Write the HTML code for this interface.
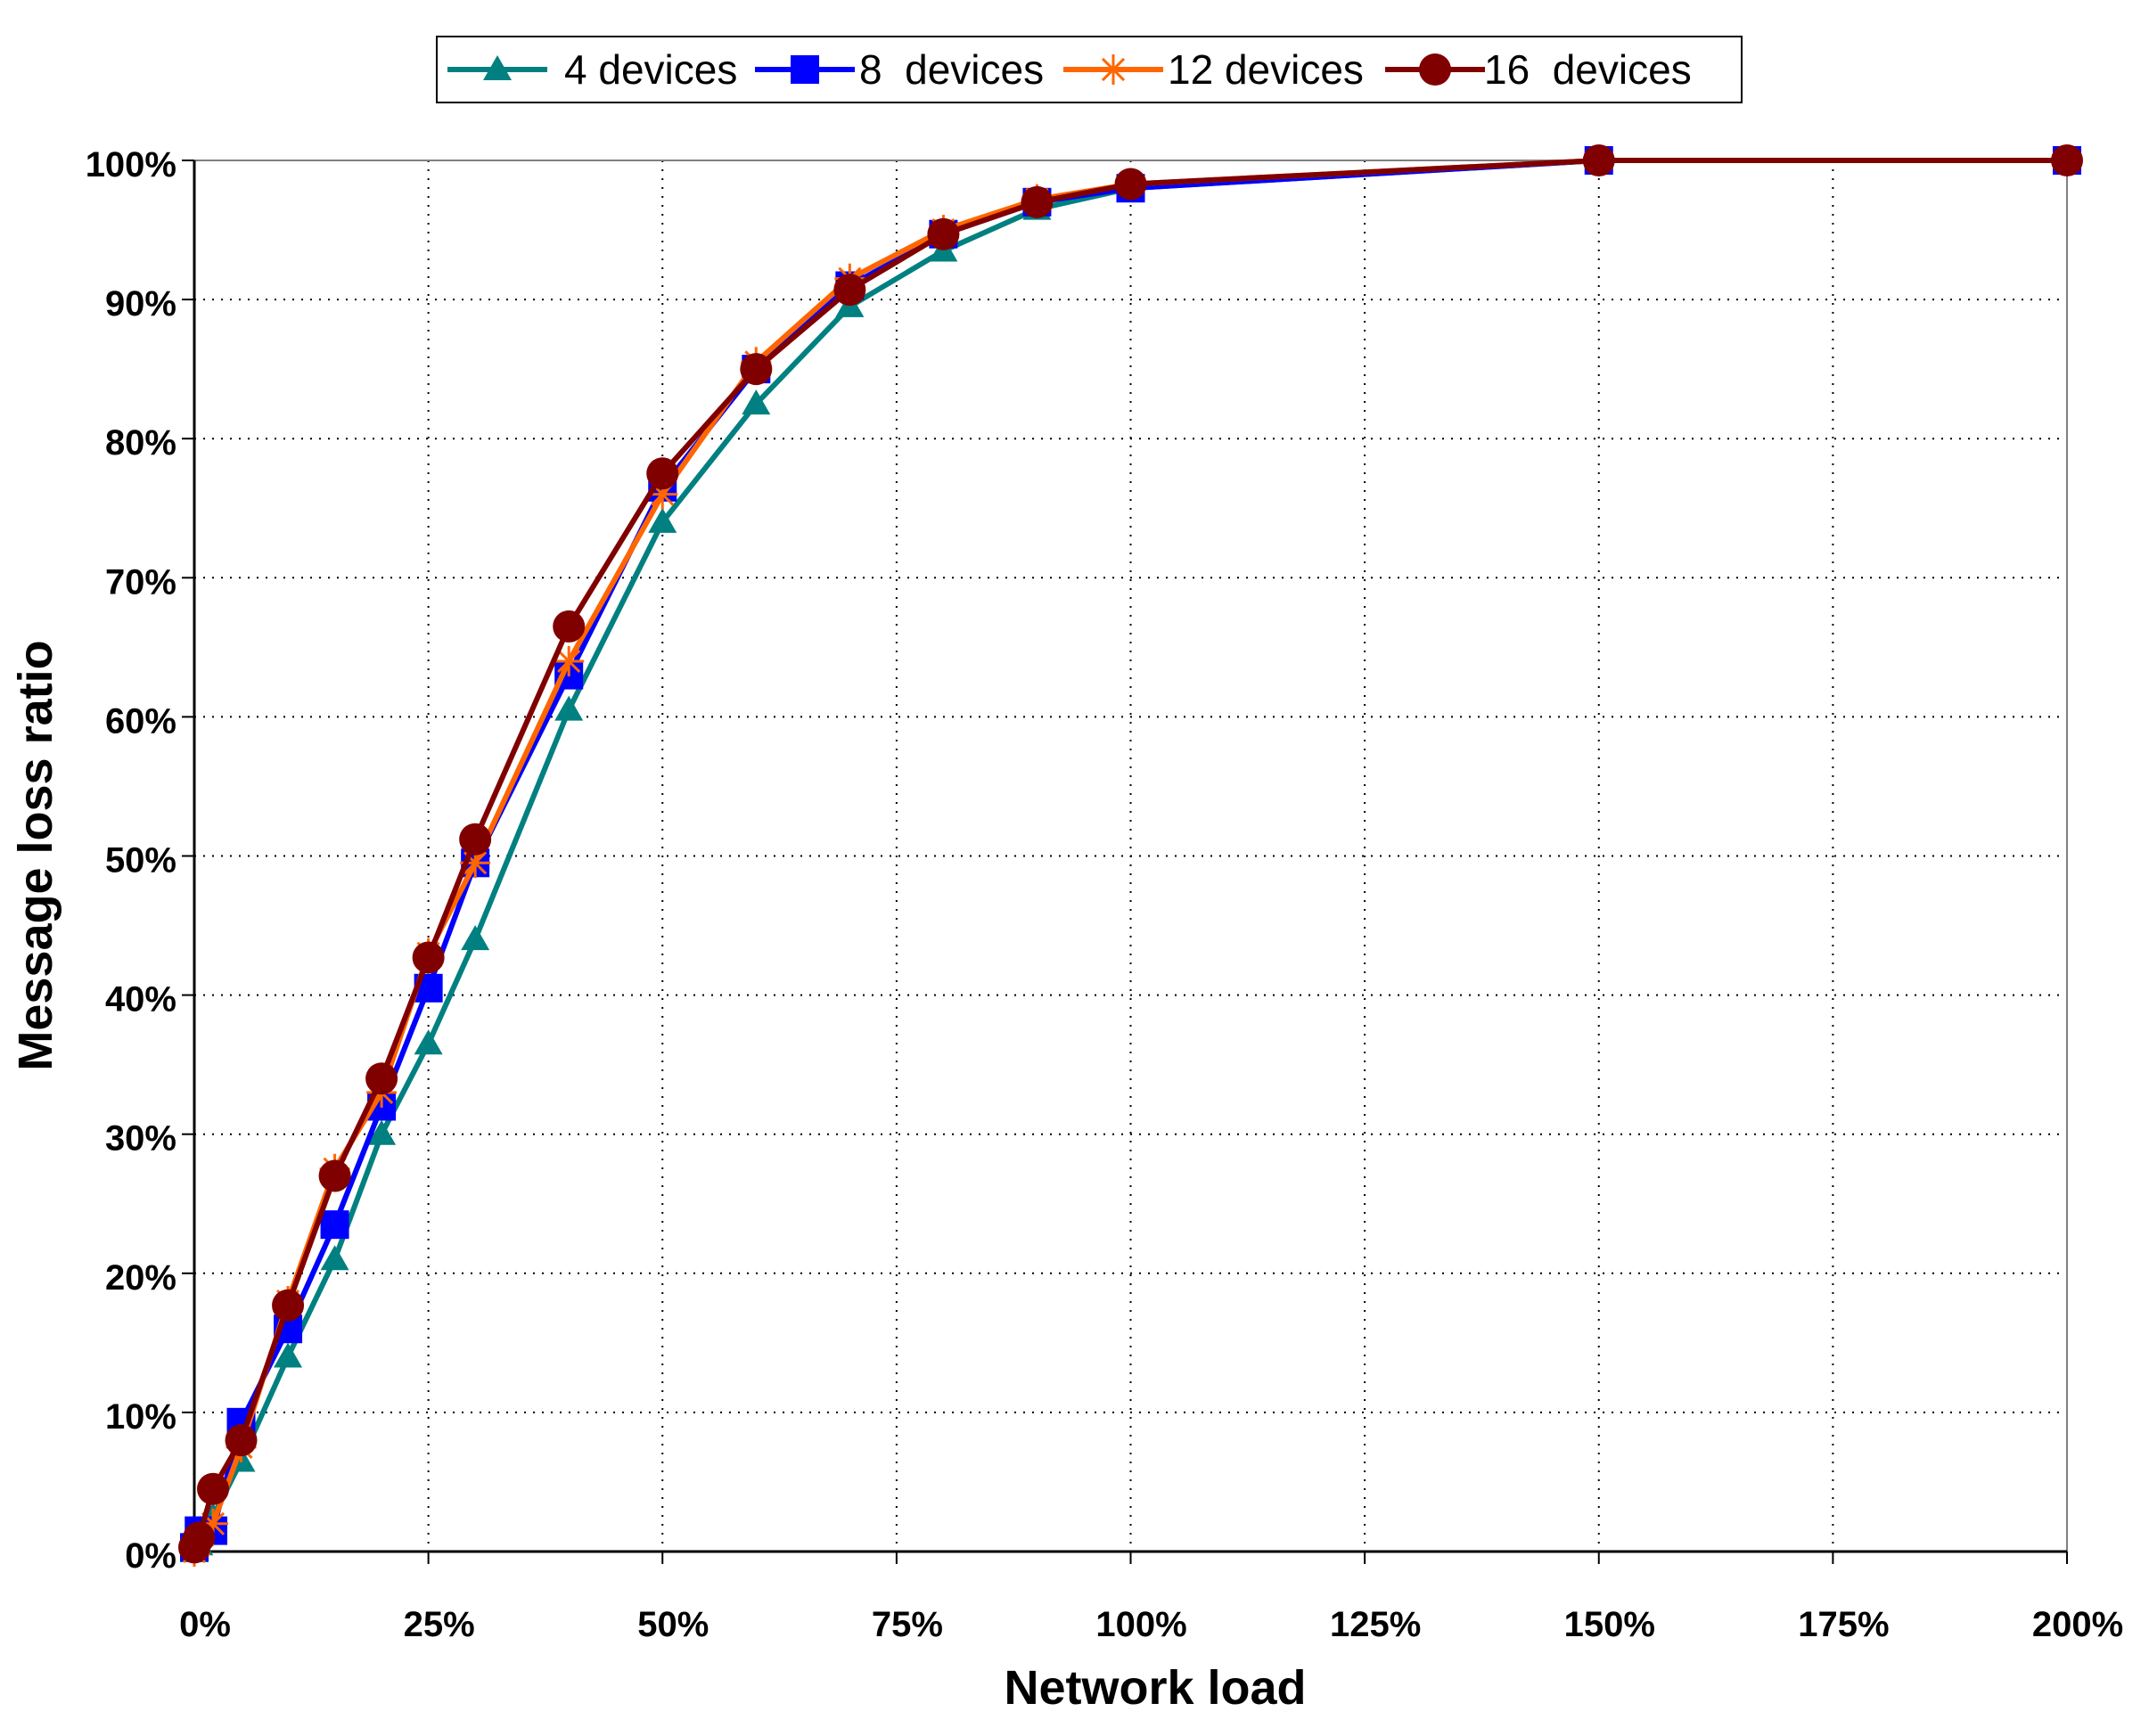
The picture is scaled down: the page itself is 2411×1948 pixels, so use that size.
<!DOCTYPE html>
<html><head><meta charset="utf-8"><style>
html,body{margin:0;padding:0;background:#fff;}
svg{display:block;}
text{font-family:"Liberation Sans",Arial,sans-serif;white-space:pre;}
</style></head><body>
<svg id="s" width="2411" height="1948" viewBox="0 0 2411 1948" xmlns="http://www.w3.org/2000/svg">
<rect width="2411" height="1948" fill="#fff"/>
<g id="grid"></g>
<rect x="218" y="180" width="2101" height="1561" fill="none" stroke="#808080" stroke-width="2"/>
<line x1="218" y1="180" x2="218" y2="1741" stroke="#000" stroke-width="3"/>
<line x1="218" y1="1741" x2="2319" y2="1741" stroke="#000" stroke-width="3"/>
<g id="ticks" font-size="40" font-weight="bold"></g>
<g id="series"></g>
<text x="1296" y="1912" font-size="54" font-weight="bold" text-anchor="middle">Network load</text>
<text transform="translate(58,960) rotate(-90)" font-size="54" font-weight="bold" text-anchor="middle">Message loss ratio</text>
<rect x="490" y="41" width="1464" height="74" fill="#fff" stroke="#000" stroke-width="2"/>
<g id="legend" font-size="46"></g>
</svg>
<script>
const NS="http://www.w3.org/2000/svg";
const X0=218,XW=2101/200,Y0=1741,YH=1561/100;
const X=v=>X0+v*XW,Y=v=>Y0-v*YH;
function el(t,a,p){const e=document.createElementNS(NS,t);for(const k in a)e.setAttribute(k,a[k]);p.appendChild(e);return e;}
const grid=document.getElementById('grid'),ticks=document.getElementById('ticks');
for(let i=1;i<=9;i++){el('line',{x1:X0,x2:2319,y1:Y(i*10),y2:Y(i*10),stroke:'#000','stroke-width':2,'stroke-dasharray':'2 8'},grid);}
for(let i=1;i<8;i++){el('line',{x1:X(i*25),x2:X(i*25),y1:180,y2:Y0,stroke:'#000','stroke-width':2,'stroke-dasharray':'2 8'},grid);}
for(let i=0;i<=10;i++){el('line',{x1:X0-14,x2:X0,y1:Y(i*10),y2:Y(i*10),stroke:'#000','stroke-width':2},ticks);
 const t=el('text',{x:X0-20,y:Y(i*10)+18,'text-anchor':'end'},ticks);t.textContent=(i*10)+'%';}
for(let i=0;i<=8;i++){el('line',{x1:X(i*25),x2:X(i*25),y1:Y0,y2:Y0+14,stroke:'#000','stroke-width':2},ticks);
 const t=el('text',{x:X(i*25)+12,y:1836,'text-anchor':'middle'},ticks);t.textContent=(i*25)+'%';}
const xs=[0,0.5,2,5,10,15,20,25,30,40,50,60,70,80,90,100,150,200];
const S=[
 {c:'#008080',m:'tri',d:[0,0.5,2.5,6.5,14,21,30,36.5,44,60.5,74,82.5,89.5,93.5,96.5,98,100,100]},
 {c:'#0000ff',m:'sq',d:[0.3,1.5,1.5,9.3,16,23.5,32,40.5,49.5,63,76.5,85,91,94.7,97,98,100,100]},
 {c:'#ff6600',m:'star',d:[0,0.5,2,7.5,18,27.5,33,43,49.5,64,76,85.5,91.5,95,97.2,98.3,100,100]},
 {c:'#800000',m:'circ',d:[0.3,1,4.5,8,17.7,27,34,42.7,51.2,66.5,77.5,85,90.7,94.7,97,98.3,100,100]}];
function marker(m,x,y,c,p){
 if(m=='tri')el('polygon',{points:`${x},${y-16} ${x-16},${y+12} ${x+16},${y+12}`,fill:c},p);
 else if(m=='sq')el('rect',{x:x-16,y:y-16,width:32,height:32,fill:c},p);
 else if(m=='circ')el('circle',{cx:x,cy:y,r:18,fill:c},p);
 else{for(const a of [0,45,90,135]){const r=a*Math.PI/180,dx=17*Math.cos(r),dy=17*Math.sin(r);
  el('line',{x1:x-dx,y1:y-dy,x2:x+dx,y2:y+dy,stroke:c,'stroke-width':3},p);}}
}
const g=document.getElementById('series');
for(const s of S){el('polyline',{points:xs.map((v,i)=>X(v)+','+Y(s.d[i])).join(' '),fill:'none',stroke:s.c,'stroke-width':6,'stroke-linejoin':'round'},g);
 xs.forEach((v,i)=>marker(s.m,X(v),Y(s.d[i]),s.c,g));}
const lg=document.getElementById('legend');
const L=[[558,633,'4 devices'],[903,964,'8\u00a0\u00a0devices'],[1249,1310,'12 devices'],[1610,1665,'16\u00a0\u00a0devices']];
L.forEach(([m,x,t],i)=>{const s=S[i];el('line',{x1:m-56,x2:m+56,y1:78,y2:78,stroke:s.c,'stroke-width':6},lg);
 marker(s.m,m,78,s.c,lg);const e=el('text',{x:x,y:94},lg);e.textContent=t;});
</script>
</body></html>
